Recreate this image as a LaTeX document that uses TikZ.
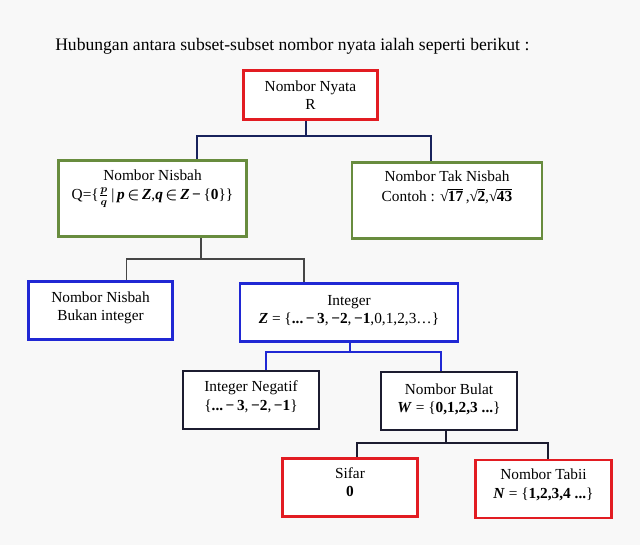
\documentclass[tikz,border=0pt]{standalone}
\usepackage{fontspec}
\usepackage{amsmath}
\setmainfont{Liberation Serif}
\usetikzlibrary{calc}
\definecolor{bred}{RGB}{226,28,34}
\definecolor{bgreen}{RGB}{104,140,62}
\definecolor{bblue}{RGB}{32,40,212}
\definecolor{bdark}{RGB}{28,28,48}
\definecolor{cnavy}{RGB}{24,34,92}
\definecolor{cgray}{RGB}{70,70,70}
\definecolor{paper}{RGB}{248,248,248}
\newcommand\bi[1]{\textbf{\textit{#1}}}
\newcommand\bel{\,{\boldmath$\in$}\,}
\newcommand\mn{\,\textbf{−}\,}
\newsavebox\rtbox
\newcommand\rt[1]{\sbox\rtbox{\textbf{#1}}\textbf{√}\kern-0.4pt\rlap{\rule[\dimexpr\ht\rtbox+1.1pt\relax]{\wd\rtbox}{0.6pt}}\usebox\rtbox}
\begin{document}
\begin{tikzpicture}[x=0.75pt,y=-0.75pt,
  box/.style={draw, line width=2.2pt, fill=white, inner sep=0pt},
  redbox/.style={box, draw=bred},
  greenbox/.style={box, draw=bgreen},
  bluebox/.style={box, draw=bblue},
  darkbox/.style={box, draw=bdark},
  txt/.style={align=center, inner sep=0pt, font=\fontsize{11.5}{14}\selectfont, text=black},
  conn/.style={line width=1pt}]
\useasboundingbox[fill=paper] (0,0) rectangle (640,545);

\node[anchor=west, inner sep=0pt, font=\fontsize{13.2}{15}\selectfont] (title) at (55,46)
  {Hubungan antara subset-subset nombor nyata ialah seperti berikut :};

% boxes
\node[redbox, minimum width=101pt, minimum height=37pt] (nyata) at (310.5,95.3) {};
\node[greenbox, minimum width=141.5pt, minimum height=57.5pt] (nisbah) at (152.5,198.5) {};
\node[greenbox, minimum width=142.5pt, minimum height=57.5pt] (taknisbah) at (447,200.5) {};
\node[bluebox, minimum width=108pt, minimum height=44pt] (bukan) at (100.5,310.5) {};
\node[bluebox, minimum width=163.5pt, minimum height=44pt] (integer) at (349,312.5) {};
\node[darkbox, minimum width=102pt, minimum height=43.5pt] (negatif) at (251,400) {};
\node[darkbox, minimum width=102pt, minimum height=43.5pt] (bulat) at (449,401) {};
\node[redbox, minimum width=101.5pt, minimum height=44pt] (sifar) at (350,487.5) {};
\node[redbox, minimum width=102pt, minimum height=43.5pt] (tabii) at (543.5,489) {};

% texts
\node[txt] (tnyata) at (nyata.center) {Nombor Nyata\\R};
\node[txt] (tnisbah) at ($(nisbah.north)+(0,30)$)
  {Nombor Nisbah\\Q=\{{\boldmath$\tfrac{p}{q}$}\,|\,\bi{p}\bel\bi{Z},\bi{q}\bel\bi{Z}\mn\{\textbf{0}\}\}};
\node[txt] (ttak) at ($(taknisbah.north)+(0,26.5)$)
  {Nombor Tak Nisbah\\[0.5pt]Contoh : \rt{17}\,,\rt{2},\rt{43}};
\node[txt] (tbukan) at ($(bukan.north)+(0,28)$) {Nombor Nisbah\\Bukan integer};
\node[txt] (tinteger) at ($(integer.north)+(0,29)$)
  {Integer\\\bi{Z} = \{\textbf{...}\mn\textbf{3},\,\textbf{−2},\,\textbf{−1},0,1,2,3…\}};
\node[txt] (tnegatif) at ($(negatif.north)+(0,27.5)$)
  {Integer Negatif\\\{\textbf{...}\mn\textbf{3},\,\textbf{−2},\,\textbf{−1}\}};
\node[txt] (tbulat) at ($(bulat.north)+(0,29)$)
  {Nombor Bulat\\\bi{W} = \{\textbf{0,1,2,3 ...}\}};
\node[txt] (tsifar) at ($(sifar.north)+(0,25.5)$) {Sifar\\\textbf{0}};
\node[txt] (ttabii) at ($(tabii.north)+(0,26.5)$)
  {Nombor Tabii\\\bi{N} = \{\textbf{1,2,3,4 ...}\}};

% connectors
\coordinate (j1) at (306,136);
\coordinate (j1l) at (197,136);
\coordinate (j1r) at (431,136);
\draw[conn, cnavy] (j1 |- nyata.south) -- (j1);
\draw[conn, cnavy] (j1l |- nisbah.north) -- (j1l) -- (j1r) -- (j1r |- taknisbah.north);

\coordinate (j2) at (201,259);
\coordinate (j2l) at (126.5,259);
\coordinate (j2r) at (304,259);
\draw[conn, cgray] (j2 |- nisbah.south) -- (j2);
\draw[conn, cgray] (j2l |- bukan.north) -- (j2l) -- (j2r) -- (j2r |- integer.north);

\coordinate (j3) at (350,352);
\coordinate (j3l) at (266,352);
\coordinate (j3r) at (441,352);
\draw[conn, bblue] (j3 |- integer.south) -- (j3);
\draw[conn, bblue] (j3l |- negatif.north) -- (j3l) -- (j3r) -- (j3r |- bulat.north);

\coordinate (j4) at (446,443);
\coordinate (j4l) at (357,443);
\coordinate (j4r) at (548,443);
\draw[conn, bdark] (j4 |- bulat.south) -- (j4);
\draw[conn, bdark] (j4l |- sifar.north) -- (j4l) -- (j4r) -- (j4r |- tabii.north);
\end{tikzpicture}
\end{document}
